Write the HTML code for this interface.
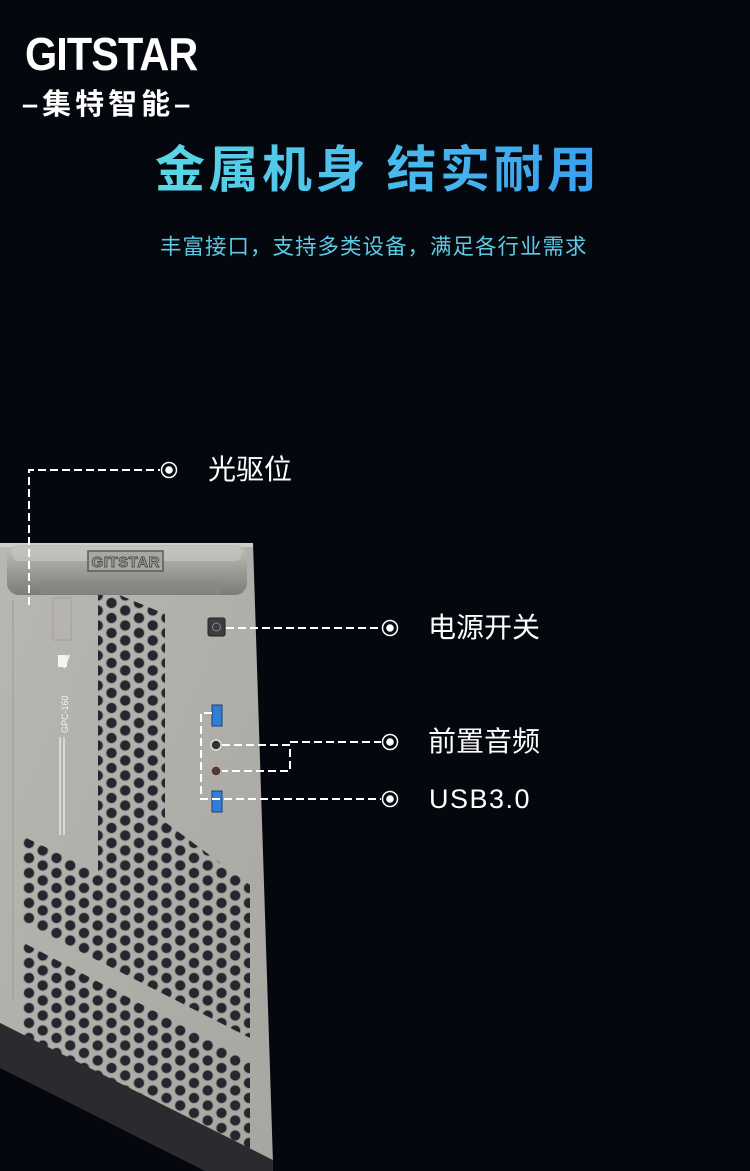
<!DOCTYPE html>
<html><head><meta charset="utf-8"><style>
html,body{margin:0;padding:0;background:#04070d;}
body{width:750px;height:1171px;position:relative;overflow:hidden;font-family:"Liberation Sans","Noto Sans CJK SC",sans-serif;}
.t{position:absolute;white-space:nowrap;}
</style></head><body>
<svg width="750" height="1171" style="position:absolute;left:0;top:0">
<defs>
<linearGradient id="pan" x1="0" y1="0" x2="1" y2="1">
<stop offset="0" stop-color="#b9b7b2"/><stop offset="1" stop-color="#a8a6a1"/></linearGradient>
<linearGradient id="hdl" x1="0" y1="0" x2="0" y2="1">
<stop offset="0" stop-color="#c2c0bb"/><stop offset="0.5" stop-color="#9f9d98"/><stop offset="1" stop-color="#7d7b77"/></linearGradient>
<pattern id="hex" patternUnits="userSpaceOnUse" x="22" y="835.5" width="27.5" height="15">
<circle cx="7" cy="7.5" r="5.4" fill="#23272e" stroke="#8f8d89" stroke-width="0.8"/>
<circle cx="20.7" cy="0" r="5.4" fill="#23272e" stroke="#8f8d89" stroke-width="0.8"/>
<circle cx="20.7" cy="15" r="5.4" fill="#23272e" stroke="#8f8d89" stroke-width="0.8"/>
</pattern>
<clipPath id="cA"><polygon points="98,586 165,614 165,880 98,880"/></clipPath>
<clipPath id="cB"><polygon points="22,836 98,872 98,820 165,822 250,885 250,1038 22,922"/></clipPath>
<clipPath id="cC"><polygon points="22,942 250,1061 250,1150 22,1034"/></clipPath>
</defs>
<polygon points="0,543 253,543 273,1163 0,1023" fill="url(#pan)"/>
<rect x="0" y="543" width="253" height="4" fill="#cfcdc8"/>
<rect x="0" y="820" width="300" height="351" fill="url(#hex)" clip-path="url(#cB)"/>
<rect x="0" y="820" width="300" height="351" fill="url(#hex)" clip-path="url(#cC)"/>
<rect x="0" y="580" width="300" height="320" fill="url(#hex)" clip-path="url(#cA)"/>
<rect x="7" y="545" width="240" height="50" rx="12" fill="url(#hdl)"/>
<rect x="12" y="547" width="230" height="14" rx="7" fill="#cac8c3" opacity="0.6"/>
<rect x="40" y="580" width="180" height="14" fill="#8b8984" opacity="0.6"/>
<rect x="88" y="551" width="75" height="20" fill="#a9a7a2" stroke="#5c5a56" stroke-width="1.5"/>
<text x="125.5" y="567" font-family="Liberation Sans" font-size="15" font-weight="bold" fill="none" stroke="#4e4c48" stroke-width="0.9" text-anchor="middle" textLength="68">GITSTAR</text>
<line x1="13" y1="600" x2="13" y2="1000" stroke="#9c9a95" stroke-width="1"/>
<rect x="53" y="598" width="18" height="42" fill="none" stroke="#9c9a95" stroke-width="0.8"/>
<polygon points="58,655 67,655 67,667 58,667" fill="#f4f4f2"/>
<line x1="69" y1="655" x2="64" y2="668" stroke="#f4f4f2" stroke-width="2"/>
<text x="0" y="0" transform="translate(68,733) rotate(-90)" font-size="9" fill="#f2f2f0" font-family="Liberation Sans">GPC-160</text>
<line x1="60" y1="737" x2="60" y2="835" stroke="#f2f2f0" stroke-width="1.2"/>
<line x1="64" y1="737" x2="64" y2="835" stroke="#f2f2f0" stroke-width="1.2"/>
<rect x="208" y="618" width="17" height="18" rx="2" fill="#3a3c40" stroke="#222" stroke-width="1"/>
<circle cx="216.5" cy="627" r="4" fill="none" stroke="#888" stroke-width="1"/>
<rect x="212" y="705" width="10" height="21" fill="#2f7fd6" stroke="#1c3f70" stroke-width="1"/>
<rect x="212" y="791" width="10" height="21" fill="#2f7fd6" stroke="#1c3f70" stroke-width="1"/>
<circle cx="216" cy="745" r="5" fill="#333" stroke="#ddd" stroke-width="1.5"/>
<circle cx="216" cy="771" r="5" fill="#4a3a3a" stroke="#c8a0a0" stroke-width="1.5"/>
<polygon points="0,1023 273,1160 273,1171 205,1171 0,1068" fill="#2b2b2f"/>
<g stroke="#ffffff" stroke-width="2" fill="none" stroke-dasharray="8,4">
<polyline points="29,605 29,470 160,470"/>
<line x1="226" y1="628" x2="381" y2="628"/>
<polyline points="222,745 290,745 290,771 222,771"/>
<line x1="290" y1="742" x2="381" y2="742"/>
<polyline points="212,713 201,713 201,799 381,799"/>
</g>
<g fill="none" stroke="#ffffff" stroke-width="1.5">
<circle cx="169" cy="470" r="7.5"/><circle cx="390" cy="628" r="7.5"/>
<circle cx="390" cy="742" r="7.5"/><circle cx="390" cy="799" r="7.5"/></g>
<g fill="#ffffff"><circle cx="169" cy="470" r="3.8"/><circle cx="390" cy="628" r="3.8"/>
<circle cx="390" cy="742" r="3.8"/><circle cx="390" cy="799" r="3.8"/></g>
<defs><linearGradient id="tg" x1="0" y1="0" x2="1" y2="0">
<stop offset="0" stop-color="#5ad8e6"/><stop offset="1" stop-color="#3aa0f0"/></linearGradient></defs>
<text x="155" y="187" font-family="Liberation Sans,Noto Sans CJK SC,sans-serif" font-size="50" font-weight="bold" fill="url(#tg)" textLength="442">金属机身 结实耐用</text>
</svg>
<div class="t" style="left:25px;top:28px;font-size:46px;font-weight:bold;color:#fff;letter-spacing:-1px;transform:scaleX(0.9);transform-origin:left;line-height:52px;">GITSTAR</div>
<div class="t" style="left:22px;top:87px;font-size:29px;font-weight:bold;color:#fff;line-height:36px;letter-spacing:4px;">–集特智能–</div>
<div class="t" style="left:160px;top:233px;font-size:21.5px;color:#5ccbe3;line-height:28px;letter-spacing:1px;">丰富接口，支持多类设备，满足各行业需求</div>
<div class="t" style="left:208px;top:453px;font-size:28px;color:#fff;line-height:34px;">光驱位</div>
<div class="t" style="left:428px;top:611px;font-size:28px;color:#fff;line-height:34px;">电源开关</div>
<div class="t" style="left:428px;top:725px;font-size:28px;color:#fff;line-height:34px;">前置音频</div>
<div class="t" style="left:429px;top:782px;font-size:27px;color:#fff;line-height:34px;letter-spacing:1.5px;">USB3.0</div>
</body></html>
